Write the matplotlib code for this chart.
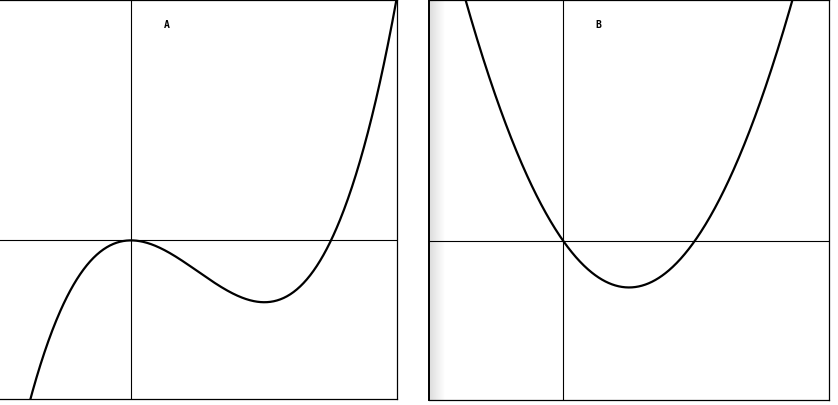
import numpy as np
import matplotlib
matplotlib.use("Agg")
import matplotlib.pyplot as plt

# polynomial coefficients (highest power first)
coef_a = [1.0, -3.0, 0.0, 0.0]    # A: x^3 - 3x^2  (double root at 0, root at 3)
coef_b = [1.0, -2.0, 0.0]         # B: x^2 - 2x    (roots at 0 and 2)
labels = ["A", "B"]

xlim_a = (-1.965, 3.99)
ylim_a = (-10.26, 15.55)
xlim_b = (-2.03, 4.03)
ylim_b = (-3.4, 5.13)

W, H = 838, 406
fig = plt.figure(figsize=(W / 100, H / 100), dpi=100)


def px_rect(x0, y0, x1, y1):
    return [x0 / W, (H - y1) / H, (x1 - x0) / W, (y1 - y0) / H]


def draw_panel(ax, coef, xlim, ylim, label, label_x, left_spine=True):
    x = np.linspace(xlim[0], xlim[1], 600)
    y = np.polyval(coef, x)
    ax.plot(x, y, color="black", linewidth=1.6, solid_capstyle="butt")
    ax.axhline(0, color="black", linewidth=0.8)
    ax.axvline(0, color="black", linewidth=0.8)
    ax.set_xlim(*xlim)
    ax.set_ylim(*ylim)
    ax.set_xticks([])
    ax.set_yticks([])
    for sp in ax.spines.values():
        sp.set_linewidth(0.9)
        sp.set_color("black")
    ax.spines["left"].set_visible(left_spine)
    ax.text(label_x, 0.94, label, transform=ax.transAxes, ha="center",
            va="center", fontsize=7, fontweight="bold",
            family="DejaVu Sans Mono")


ax_a = fig.add_axes(px_rect(0, 1, 397, 400))
draw_panel(ax_a, coef_a, xlim_a, ylim_a, labels[0], 167 / 397,
           left_spine=False)

ax_b = fig.add_axes(px_rect(429, 1, 829, 401))
draw_panel(ax_b, coef_b, xlim_b, ylim_b, labels[1], (598 - 429) / 400)
ax_b.spines["left"].set_linewidth(1.4)

# faint grey shadow along the inner left edge of panel B
shade = np.linspace(0.86, 1.0, 64)
grad = np.repeat(shade[None, :, None], 3, axis=2)
ax_b.imshow(grad, aspect="auto", zorder=0, interpolation="bilinear",
            extent=(xlim_b[0], xlim_b[0] + 0.24, ylim_b[0], ylim_b[1]))
ax_b.set_xlim(*xlim_b)
ax_b.set_ylim(*ylim_b)

fig.savefig("out.png", dpi=100)
